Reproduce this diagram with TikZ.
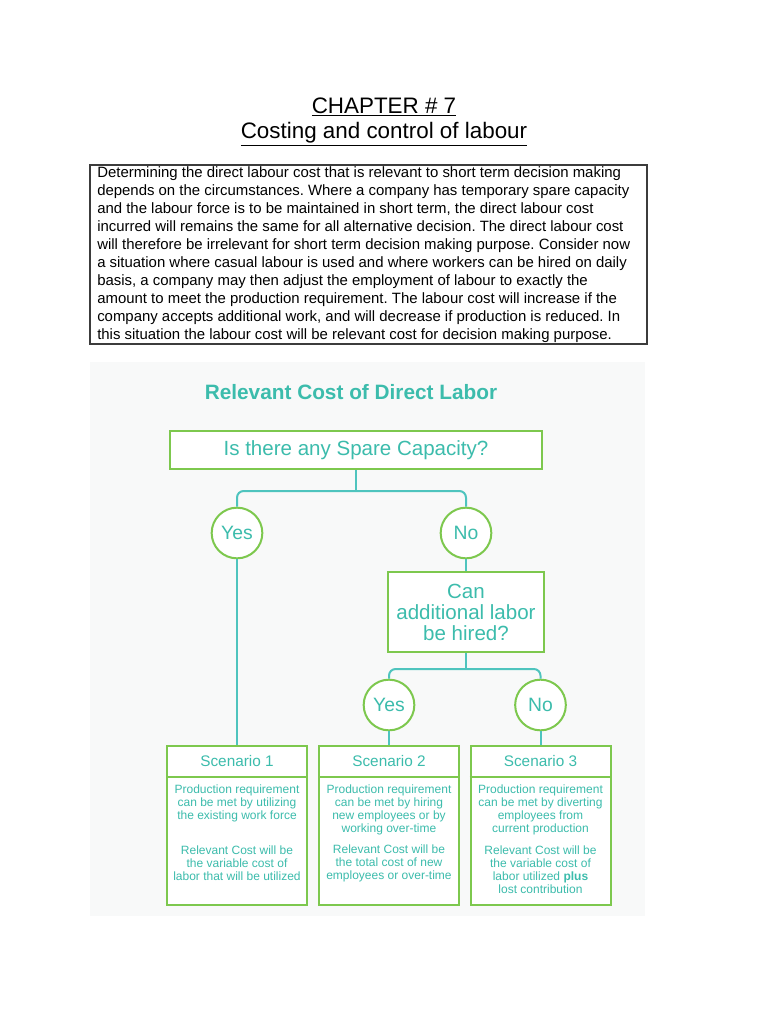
\documentclass[tikz,border=0pt]{standalone}
\usepackage{fontspec}
\setmainfont{Liberation Sans}
\definecolor{tealtxt}{RGB}{60,188,172}
\definecolor{bgreen}{RGB}{125,200,78}
\definecolor{tealline}{RGB}{78,196,190}
\definecolor{diagbg}{RGB}{248,249,249}
\definecolor{boxgray}{RGB}{60,60,60}
\begin{document}
\frenchspacing
\begin{tikzpicture}[x=0.75pt,y=-0.75pt,
  box/.style={draw=bgreen, line width=1.5pt, fill=white, text=tealtxt, align=center, inner sep=0pt},
  circ/.style={circle, draw=bgreen, line width=1.5pt, fill=white, text=tealtxt, minimum size=38pt, inner sep=0pt, font=\fontsize{14.5}{16}\selectfont},
  conn/.style={draw=tealline, line width=1.5pt, rounded corners=5pt},
  scen/.style={box, minimum width=105pt, minimum height=119.25pt},
  small/.style={text=tealtxt, align=center, font=\fontsize{9}{9.75}\selectfont, inner sep=0pt},
  head/.style={text=tealtxt, font=\fontsize{11.5}{13}\selectfont, inner sep=0pt}]
\useasboundingbox (0,0) rectangle (768,1024);
\fill[white] (0,0) rectangle (768,1024);
% titles
\node[font=\fontsize{16.8}{20}\selectfont, inner sep=0pt] (t1) at (384,107) {\underline{CHAPTER \# 7}};
\node[font=\fontsize{16.8}{20}\selectfont, inner sep=0pt] (t2) at (384,134) {\underline{Costing and control of labour}};
% body box
\node[draw=boxgray, line width=0.8pt, minimum width=417.75pt, minimum height=134.25pt, inner sep=0pt] (bodybox) at (368.5,254.5) {};
\node[anchor=north west, inner sep=0pt, align=left, font=\fontsize{11.2}{13.5}\selectfont] (bodytext) at (97,166) {Determining the direct labour cost that is relevant to short term decision making\\
depends on the circumstances. Where a company has temporary spare capacity\\
and the labour force is to be maintained in short term, the direct labour cost\\
incurred will remains the same for all alternative decision. The direct labour cost\\
will therefore be irrelevant for short term decision making purpose. Consider now\\
a situation where casual labour is used and where workers can be hired on daily\\
basis, a company may then adjust the employment of labour to exactly the\\
amount to meet the production requirement. The labour cost will increase if the\\
company accepts additional work, and will decrease if production is reduced. In\\
this situation the labour cost will be relevant cost for decision making purpose.};
% diagram background
\node[fill=diagbg, minimum width=416.25pt, minimum height=415.5pt, inner sep=0pt] (diag) at (367.5,639) {};
\node[text=tealtxt, font=\bfseries\fontsize{15.6}{18}\selectfont, inner sep=0pt] (dtitle) at (351,392) {Relevant Cost of Direct Labor};
% question 1
\node[box, minimum width=279pt, minimum height=28.5pt, font=\fontsize{15.4}{18}\selectfont] (q1) at (356,450) {Is there any Spare Capacity?};
\coordinate (b1) at (356,491);
\node[circ] (yes1) at (237,533) {Yes};
\node[circ] (no1) at (466,533) {No};
% question 2
\node[box, minimum width=117pt, minimum height=60pt, font=\fontsize{15.4}{15.75}\selectfont] (q2) at (466,612) {Can\\additional labor\\be hired?};
\coordinate (b2) at (466,669);
\node[circ] (yes2) at (389,705) {Yes};
\node[circ] (no2) at (540.5,705) {No};
% scenarios
\node[scen] (s1) at (237,825.5) {};
\node[scen] (s2) at (389,825.5) {};
\node[scen] (s3) at (540.5,825.5) {};
\foreach \s in {s1,s2,s3}{
  \draw[bgreen, line width=1.5pt] (\s.west |- 0,777) -- (\s.east |- 0,777);
}
\node[head] (h1) at (237,761) {Scenario 1};
\node[head] (h2) at (389,761) {Scenario 2};
\node[head] (h3) at (540.5,761) {Scenario 3};
\node[small] (s1a) at (237,803) {Production requirement\\can be met by utilizing\\the existing work force};
\node[small] (s1b) at (237,863) {Relevant Cost will be\\the variable cost of\\labor that will be utilized};
\node[small] (s2a) at (389,809.5) {Production requirement\\can be met by hiring\\new employees or by\\working over-time};
\node[small] (s2b) at (389,863) {Relevant Cost will be\\the total cost of new\\employees or over-time};
\node[small] (s3a) at (540.5,809.5) {Production requirement\\can be met by diverting\\employees from\\current production};
\node[small] (s3b) at (540.5,869.5) {Relevant Cost will be\\the variable cost of\\labor utilized \textbf{plus}\\lost contribution};
% connectors
\draw[conn] (q1.south) -- (b1);
\draw[conn] (yes1.north) |- (b1) -| (no1.north);
\draw[conn] (no1.south) -- (q2.north);
\draw[conn] (yes1.south) -- (s1.north);
\draw[conn] (q2.south) -- (b2);
\draw[conn] (yes2.north) |- (b2) -| (no2.north);
\draw[conn] (yes2.south) -- (s2.north);
\draw[conn] (no2.south) -- (s3.north);
\end{tikzpicture}
\end{document}
